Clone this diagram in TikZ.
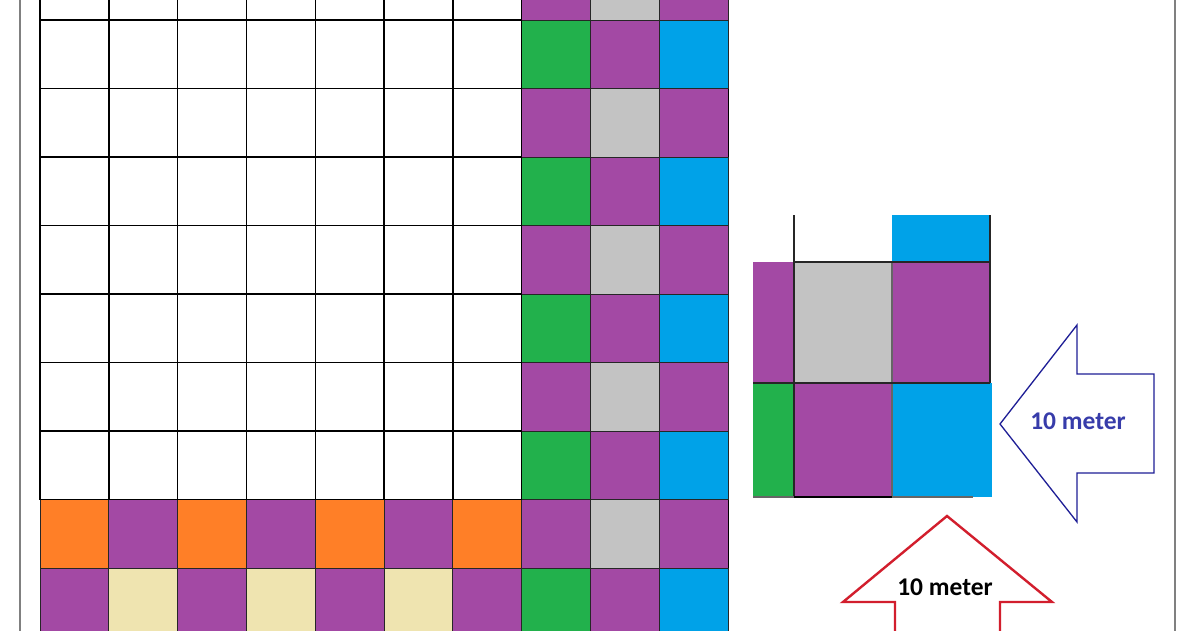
\documentclass[tikz,border=0pt]{standalone}
\usepackage{fontspec}
\setmainfont{Carlito}
\definecolor{cpurple}{RGB}{163,73,164}
\definecolor{cgray}{RGB}{195,195,195}
\definecolor{cgreen}{RGB}{34,177,76}
\definecolor{cblue}{RGB}{0,162,232}
\definecolor{corange}{RGB}{255,127,39}
\definecolor{ccream}{RGB}{239,228,176}
\definecolor{cframe}{RGB}{128,128,128}
\definecolor{cnavy}{RGB}{30,30,150}
\definecolor{cnavytext}{RGB}{55,60,170}
\definecolor{cred}{RGB}{210,30,45}
\tikzset{
  cellline/.style={draw=black!85, line width=0.7pt},
  gridline/.style={draw=black, line width=1.4pt},
  frameline/.style={draw=cframe, line width=2.6pt},
  blockline/.style={draw=black!85, line width=1.2pt},
  bluearrow/.style={draw=cnavy, line width=1.3pt, fill=white},
  redarrow/.style={draw=cred, line width=2.4pt, fill=white},
  lbl/.style={font=\bfseries\fontsize{25.5}{30}\selectfont, inner sep=0pt}
}
\begin{document}
\begin{tikzpicture}[x=1pt,y=-1pt]
\useasboundingbox (0,0) rectangle (1200,630);
\fill[white] (0,0) rectangle (1200,630);
\begin{scope}
\clip (0,0) rectangle (1200,630);
% outer frame lines
\draw[frameline] (19.8,-5) -- (19.8,640);
\draw[frameline] (1174.8,-5) -- (1174.8,640);
% right three columns
\foreach \j in {-1,1,3,5,7}{
  \fill[cpurple] ({40+68.8*7},{20+68.5*\j}) rectangle ++(68.8,68.5);
  \fill[cgray]   ({40+68.8*8},{20+68.5*\j}) rectangle ++(68.8,68.5);
  \fill[cpurple] ({40+68.8*9},{20+68.5*\j}) rectangle ++(68.8,68.5);
}
\foreach \j in {0,2,4,6,8}{
  \fill[cgreen]  ({40+68.8*7},{20+68.5*\j}) rectangle ++(68.8,68.5);
  \fill[cpurple] ({40+68.8*8},{20+68.5*\j}) rectangle ++(68.8,68.5);
  \fill[cblue]   ({40+68.8*9},{20+68.5*\j}) rectangle ++(68.8,68.5);
}
% bottom two rows on the left
\foreach \i in {0,2,4,6}{
  \fill[corange] ({40+68.8*\i},{20+68.5*7}) rectangle ++(68.8,68.5);
  \fill[cpurple] ({40+68.8*\i},{20+68.5*8}) rectangle ++(68.8,68.5);
}
\foreach \i in {1,3,5}{
  \fill[cpurple] ({40+68.8*\i},{20+68.5*7}) rectangle ++(68.8,68.5);
  \fill[ccream]  ({40+68.8*\i},{20+68.5*8}) rectangle ++(68.8,68.5);
}
% thin lines through the coloured cells
\foreach \i in {0,...,10}{
  \draw[cellline] ({40+68.8*\i},{20+68.5*7}) -- ({40+68.8*\i},640);
}
\foreach \i in {7,...,10}{
  \draw[cellline] ({40+68.8*\i},-60) -- ({40+68.8*\i},{20+68.5*7});
}
\foreach \j in {-1,...,8}{
  \draw[cellline] ({40+68.8*7},{20+68.5*\j}) -- (728,{20+68.5*\j});
}
\foreach \j in {7,8}{
  \draw[cellline] (40,{20+68.5*\j}) -- (728,{20+68.5*\j});
}
% black grid in the white part
\foreach \i in {0,...,7}{
  \draw[gridline] ({40+68.8*\i},-60) -- ({40+68.8*\i},{20+68.5*7});
}
\foreach \j in {0,...,7}{
  \draw[gridline] (40,{20+68.5*\j}) -- ({40+68.8*7},{20+68.5*\j});
}
\draw[draw=black, line width=1.6pt] (728.5,88.5) -- (728.5,157);
\draw[draw=black, line width=1.6pt] (728.5,499.5) -- (728.5,568);
\end{scope}
% small block
\fill[cblue]   (892,215) rectangle (991,262);
\fill[cpurple] (753,262) rectangle (794,383);
\fill[cgray]   (794,262) rectangle (892,383);
\fill[cpurple] (892,262) rectangle (990,383);
\fill[cgreen]  (753,383) rectangle (794,497);
\fill[cpurple] (794,383) rectangle (892,497);
\fill[cblue]   (892,383) rectangle (992,497);
\draw[blockline] (794,215) -- (794,497);
\draw[blockline, draw=black!60] (892,262) -- (892,497);
\draw[blockline] (794,262) -- (990,262);
\draw[blockline] (753,383) -- (990,383);
\draw[blockline] (990,215) -- (990,383);
\draw[blockline, draw=black!60] (753,497) -- (973,497);
\draw[draw=black, line width=1.8pt] (794,497) -- (892,497);
% arrows
\path[bluearrow] (1000,424) -- (1077,325) -- (1077,374) -- (1154,374)
  -- (1154,473) -- (1077,473) -- (1077,522) -- cycle;
\node[lbl, text=cnavytext] (bluelbl) at (1078,421) {10 meter};
\begin{scope}
\clip (0,0) rectangle (1200,630);
\path[redarrow] (947,516) -- (1052,602) -- (1000,602) -- (1000,645)
  -- (895,645) -- (895,602) -- (843,602) -- cycle;
\end{scope}
\node[lbl, text=black] (redlbl) at (945,587) {10 meter};
\end{tikzpicture}
\end{document}
